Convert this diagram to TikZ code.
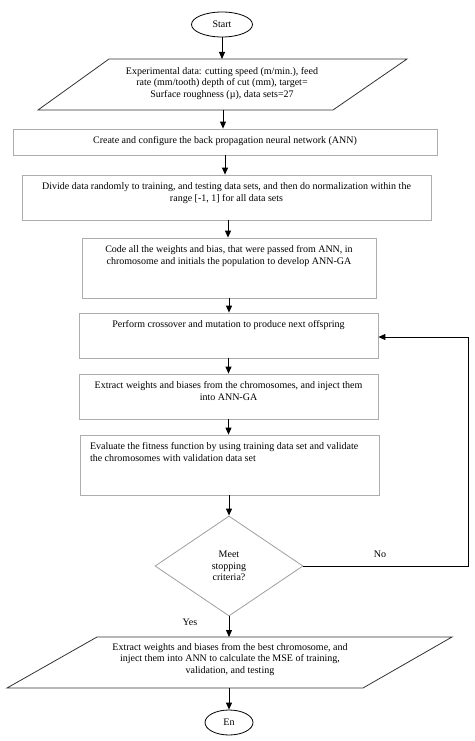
\documentclass[tikz,border=0pt]{standalone}
\usepackage{fontspec}
\setmainfont{Liberation Serif}
\usetikzlibrary{shapes.geometric,arrows.meta}
\newcommand{\bxt}[3]{\parbox[c][#2][t]{#1}{\centering\vspace{6.5pt}\strut #3}}
\begin{document}
\begin{tikzpicture}[x=1pt,y=1pt,
  every node/.style={font=\fontsize{10}{11.5}\selectfont},
  procbox/.style={draw=black!32, line width=0.8pt, inner sep=0pt, fill=white},
  term/.style={draw=black, line width=0.8pt, ellipse, minimum width=#1, minimum height=25pt, inner sep=0pt},
  iobox/.style={draw=black!80, line width=0.8pt},
  decis/.style={draw=black!38, line width=0.8pt, diamond, minimum width=148pt, minimum height=100pt, inner sep=0pt},
  arr/.style={draw=black, line width=0.9pt, -{Triangle[length=7pt,width=6pt]}},
  lbl/.style={inner sep=1pt}]
\useasboundingbox (0,0) rectangle (474,-741);

% Start
\node[term=61pt] (start) at (222,-24.5) {Start};

% Input parallelogram
\draw[iobox] (109,-59) -- (407,-59) -- (333,-110) -- (38,-110) -- cycle;
\coordinate (p1n) at (222,-59);
\coordinate (p1s) at (223,-110);
\node[align=center] (in1) at (222,-83.5) {Experimental data: cutting speed (m/min.), feed\\rate (mm/tooth) depth of cut (mm), target=\\Surface roughness (µ), data sets=27};

% Process boxes
\node[procbox] (b1) at (225,-142) {\bxt{424pt}{26pt}{Create and configure the back propagation neural network (ANN)}};
\node[procbox] (b2) at (226.5,-197.5) {\bxt{409pt}{45pt}{Divide data randomly to training, and testing data sets, and then do normalization within the\\range [-1, 1] for all data sets}};
\node[procbox] (b3) at (229,-268) {\bxt{294pt}{60pt}{Code all the weights and bias, that were passed from ANN, in\\chromosome and initials the population to develop ANN-GA}};
\node[procbox] (b4) at (228.5,-335.5) {\bxt{299pt}{45pt}{Perform crossover and mutation to produce next offspring}};
\node[procbox] (b5) at (228.5,-396.5) {\bxt{299pt}{45pt}{Extract weights and biases from the chromosomes, and inject them\\into ANN-GA}};
\node[procbox] (b6) at (229.5,-465) {\parbox[c][60pt][t]{299pt}{\vspace{6.5pt}\leftskip=10pt\strut Evaluate the fitness function by using training data set and validate\\the chromosomes with validation data set}};

% Decision
\node[decis, align=center] (dec) at (229,-566) {Meet\\stopping\\criteria?};

% Output parallelogram
\draw[iobox] (97,-637) -- (452,-637) -- (363,-688) -- (7,-688) -- cycle;
\coordinate (p2n) at (229,-637);
\coordinate (p2s) at (229,-688);
\node[align=center] (out1) at (230,-659.5) {Extract weights and biases from the best chromosome, and\\inject them into ANN to calculate the MSE of training,\\validation, and testing};

% End
\node[term=48pt] (stop) at (229,-722.5) {En};

% Connectors
\draw[arr] (start.south) -- (p1n);
\draw[arr] (p1s) -- (p1s |- b1.north);
\draw[arr] (b1.south) -- (b1.south |- b2.north);
\draw[arr] ([xshift=1.5pt]b2.south) -- ([xshift=1.5pt]b2.south |- b3.north);
\draw[arr] (b3.south) -- (b3.south |- b4.north);
\draw[arr] (b4.south) -- (b4.south |- b5.north);
\draw[arr] (b5.south) -- (b5.south |- b6.north);
\draw[arr] (b6.south -| dec.north) -- (dec.north);
\draw[arr] (dec.south) -- (p2n);
\draw[arr] (p2s) -- (stop.north);

\coordinate (loopR) at (468,-337);
\draw[arr] (dec.east) -| (loopR) -- (b4.east |- loopR);
\node[lbl] (nolbl) at (380,-554) {No};
\node[lbl] (yeslbl) at (190,-622) {Yes};
\end{tikzpicture}
\end{document}
